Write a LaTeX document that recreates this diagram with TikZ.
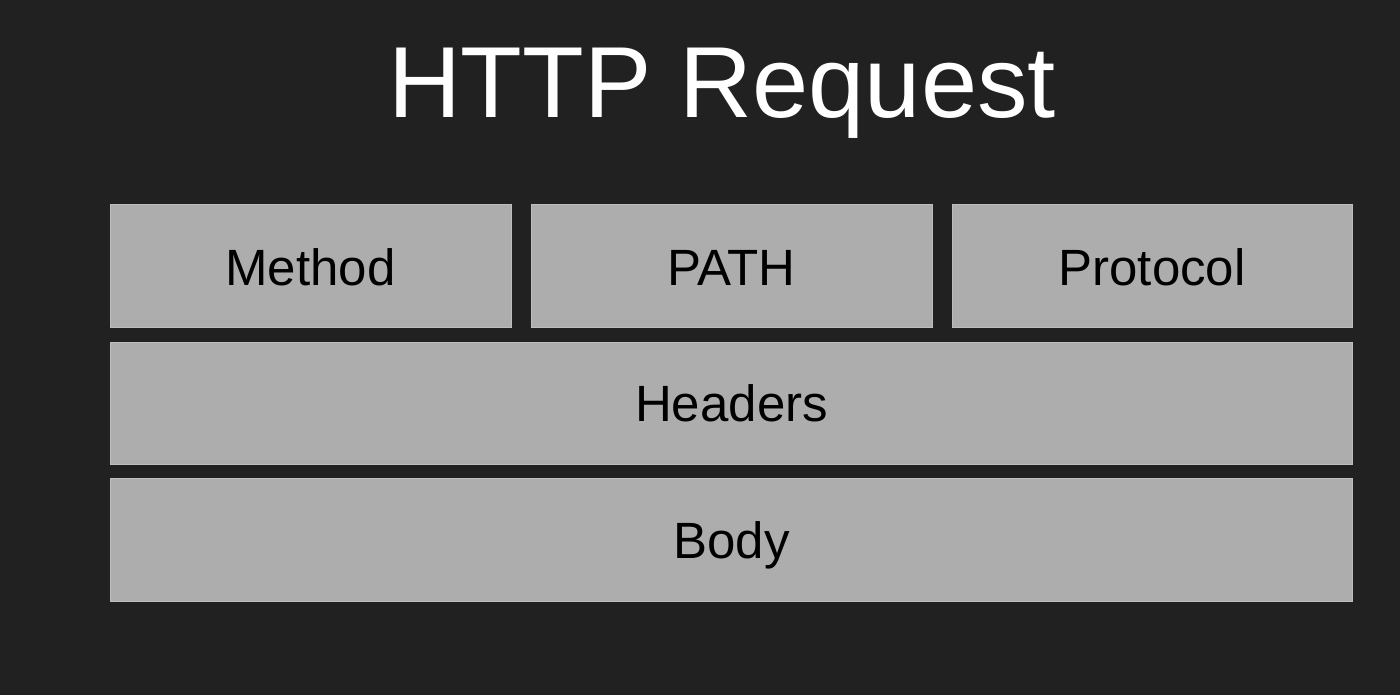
\documentclass[tikz,border=0pt]{standalone}
\usepackage{fontspec}
\setmainfont{Liberation Sans}
\definecolor{bg}{HTML}{212121}
\definecolor{boxfill}{HTML}{ADADAD}
\definecolor{boxline}{HTML}{BDBDBD}
\begin{document}
\begin{tikzpicture}[x=1pt,y=-1pt,
  field/.style={draw=boxline,fill=boxfill,line width=1pt},
  lbl/.style={anchor=base,inner sep=0pt,text=black,font=\fontsize{51}{60}\selectfont},
  ttl/.style={anchor=base,inner sep=0pt,text=white,font=\fontsize{101}{120}\selectfont}]
\fill[bg] (0,0) rectangle (1400,695);
\useasboundingbox (0,0) rectangle (1400,695);
\node[ttl] (title) at (722,118) {HTTP Request};
\draw[field] (110.5,204.5) rectangle (511,327);
\draw[field] (531,204.5) rectangle (932,327);
\draw[field] (952,204.5) rectangle (1352.5,327);
\draw[field] (110.5,342) rectangle (1352.5,464);
\draw[field] (110.5,478) rectangle (1352.5,601);
\node[lbl] (method) at (310.5,285) {Method};
\node[lbl] (path) at (731.5,285) {PATH};
\node[lbl] (protocol) at (1152,285) {Protocol};
\node[lbl] (headers) at (731.5,421.5) {Headers};
\node[lbl] (body) at (731.5,558) {Body};
\end{tikzpicture}
\end{document}
